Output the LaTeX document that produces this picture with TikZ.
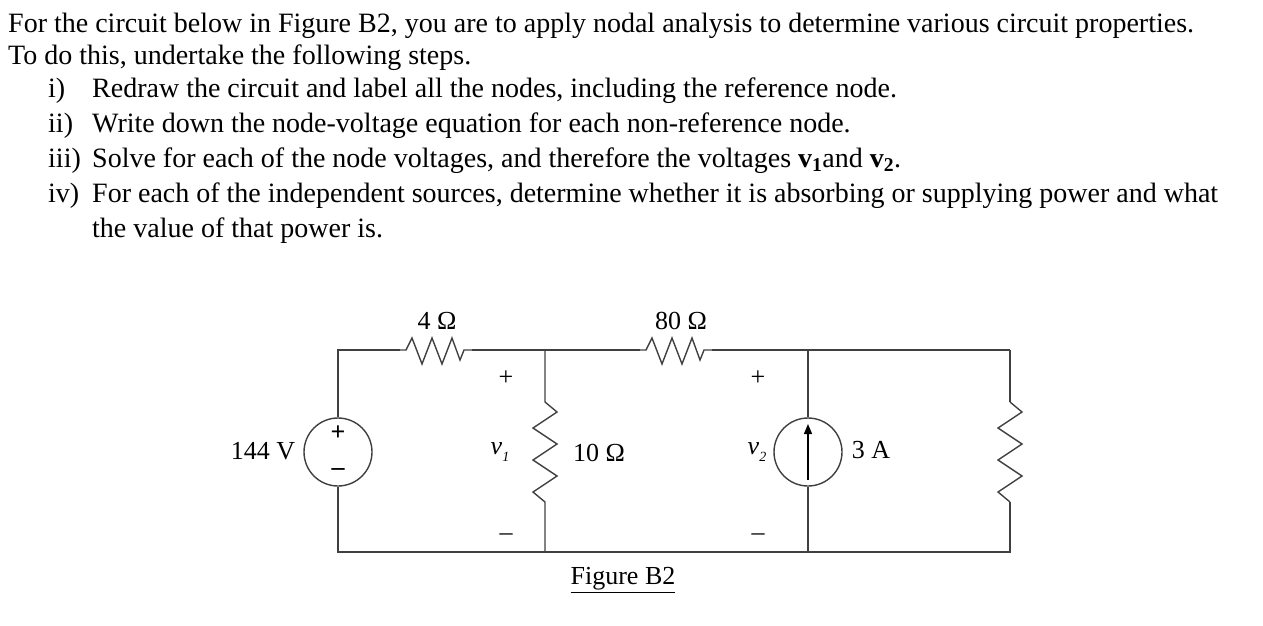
\documentclass[tikz,border=0pt]{standalone}
\usepackage{fontspec}
\setmainfont{Liberation Serif}
\usetikzlibrary{arrows.meta}
\begin{document}
\begin{tikzpicture}[x=1pt,y=-1pt,
  wire/.style={draw=black!75,line width=1.4pt},
  txt/.style={anchor=base west,inner sep=0pt,font=\fontsize{28}{32}\selectfont},
  lbl/.style={inner sep=0pt,font=\fontsize{26}{30}\selectfont}]
\useasboundingbox (0,0) rectangle (1263,625);
% text
\node[txt] (l1) at (8,32) {For the circuit below in Figure B2, you are to apply nodal analysis to determine various circuit properties.};
\node[txt] (l2) at (8,64) {To do this, undertake the following steps.};
\node[txt] (n1) at (48,97) {i)};
\node[txt] (t1) at (92,97) {Redraw the circuit and label all the nodes, including the reference node.};
\node[txt] (n2) at (48,132) {ii)};
\node[txt] (t2) at (92,132) {Write down the node-voltage equation for each non-reference node.};
\node[txt] (n3) at (48,167) {iii)};
\node[txt] (t3) at (92,167) {Solve for each of the node voltages, and therefore the voltages $\mathbf{v_1}$and $\mathbf{v_2}$.};
\node[txt] (n4) at (48,202) {iv)};
\node[txt] (t4) at (92,202) {For each of the independent sources, determine whether it is absorbing or supplying power and what};
\node[txt] (t5) at (92,237) {the value of that power is.};
% coordinates
\coordinate (tl) at (338,350); \coordinate (bl) at (338,552);
\coordinate (ta) at (545,350); \coordinate (ba) at (545,552);
\coordinate (tb) at (808,350); \coordinate (bb) at (808,552);
\coordinate (tr) at (1010,350); \coordinate (br) at (1010,552);
\coordinate (r2a) at (640,350);
% voltage source
\node[draw=black!75,line width=1.4pt,circle,minimum size=68pt,inner sep=0pt] (vs) at (338,452) {};
\node[inner sep=0pt,font=\fontsize{26}{26}\selectfont\bfseries] (vp) at (338,433) {+};
\node[inner sep=0pt,font=\fontsize{26}{26}\selectfont\bfseries] (vm) at (338,472) {--};
% current source
\node[draw=black!75,line width=1.4pt,circle,minimum size=68pt,inner sep=0pt] (cs) at (808,452) {};
\draw[line width=1.4pt,-{Triangle[length=10pt,width=8pt]}] (808,480) -- (808,424);
% wires
\draw[wire] (vs.north) -- (tl) -- (400,350);
\draw[wire] (400,350) -- (406,350) -- (412,338) -- (422,364) -- (432,338) -- (442,364) -- (452,338) -- (460,360) -- (464,350) -- (472,350);
\draw[wire] (472,350) -- (ta);
\draw[wire] (ta) -- (r2a);
\draw[wire] (640,350) -- (646,350) -- (652,338) -- (662,364) -- (672,338) -- (682,364) -- (692,338) -- (700,360) -- (704,350) -- (712,350);
\draw[wire] (712,350) -- (tb);
\draw[wire] (tb) -- (tr);
\draw[wire] (tr) -- (1010,402);
\draw[wire] (vs.south) -- (bl) -- (ba) -- (bb) -- (br) -- (1010,502);
\draw[wire] (ta) -- (545,402) -- (557,412) -- (533,428) -- (557,444) -- (533,460) -- (557,476) -- (533,492) -- (545,502) -- (ba);
\draw[wire] (1010,402) -- (1022,412) -- (998,428) -- (1022,444) -- (998,460) -- (1022,476) -- (998,492) -- (1010,502);
\draw[wire] (tb) -- (cs.north); \draw[wire] (cs.south) -- (bb);
% labels
\node[lbl] (r1) at (437,321) {4 Ω};
\node[lbl] (r2) at (681,321) {80 Ω};
\node[lbl] (r3) at (599,453) {10 Ω};
\node[lbl] (vsl) at (263,451) {144 V};
\node[lbl] (csl) at (871,450) {3 A};
\node[lbl] (p1) at (506,378) {+};
\node[lbl] (m1) at (506,537) {--};
\node[lbl] (p2) at (758,378) {+};
\node[lbl] (m2) at (758,537) {--};
\node[lbl] (v1) at (500,452) {\textit{v}\raisebox{-7pt}{\fontsize{14}{14}\selectfont\itshape 1}};
\node[lbl] (v2) at (757,452) {\textit{v}\raisebox{-7pt}{\fontsize{14}{14}\selectfont\itshape 2}};
\node[lbl] (fig) at (623,580) {\underline{Figure B2}};
\end{tikzpicture}
\end{document}
